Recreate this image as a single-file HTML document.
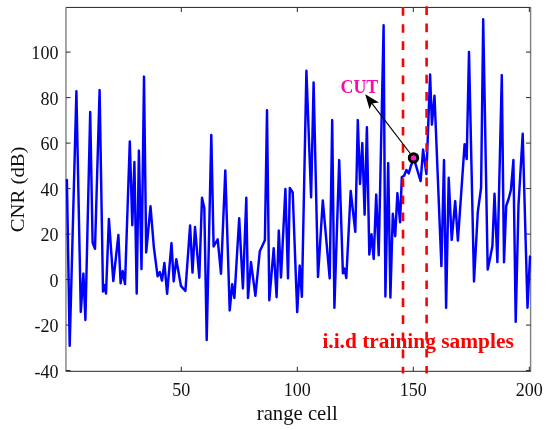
<!DOCTYPE html>
<html><head><meta charset="utf-8"><style>
html,body{margin:0;padding:0;background:#fff;}
body{width:550px;height:430px;overflow:hidden;}
svg{display:block;}
text{font-family:"Liberation Serif","DejaVu Serif",serif;}
</style></head><body>
<svg width="550" height="430" viewBox="0 0 550 430">
<rect x="0" y="0" width="550" height="430" fill="#fff"/>
<defs><clipPath id="ax"><rect x="64.65" y="6.13" width="467.25" height="366.47"/></clipPath></defs>
<g stroke="#262626" stroke-width="1" fill="none">
<line x1="65.75" y1="7.43" x2="530.8000000000001" y2="7.43"/>
<line x1="65.75" y1="371.3" x2="530.8000000000001" y2="371.3"/>
<line x1="65.95" y1="7.43" x2="65.95" y2="371.3" stroke="#808080" stroke-width="1.4"/>
<line x1="530.6" y1="7.43" x2="530.6" y2="371.3" stroke="#808080" stroke-width="1.4"/>
<line x1="65.95" y1="52.10" x2="70.55" y2="52.10"/>
<line x1="530.6" y1="52.10" x2="526.00" y2="52.10"/>
<line x1="65.95" y1="97.60" x2="70.55" y2="97.60"/>
<line x1="530.6" y1="97.60" x2="526.00" y2="97.60"/>
<line x1="65.95" y1="143.10" x2="70.55" y2="143.10"/>
<line x1="530.6" y1="143.10" x2="526.00" y2="143.10"/>
<line x1="65.95" y1="188.60" x2="70.55" y2="188.60"/>
<line x1="530.6" y1="188.60" x2="526.00" y2="188.60"/>
<line x1="65.95" y1="234.10" x2="70.55" y2="234.10"/>
<line x1="530.6" y1="234.10" x2="526.00" y2="234.10"/>
<line x1="65.95" y1="279.60" x2="70.55" y2="279.60"/>
<line x1="530.6" y1="279.60" x2="526.00" y2="279.60"/>
<line x1="65.95" y1="325.10" x2="70.55" y2="325.10"/>
<line x1="530.6" y1="325.10" x2="526.00" y2="325.10"/>
<line x1="65.95" y1="370.60" x2="70.55" y2="370.60"/>
<line x1="530.6" y1="370.60" x2="526.00" y2="370.60"/>
<line x1="181.30" y1="371.3" x2="181.30" y2="366.70"/>
<line x1="181.30" y1="7.43" x2="181.30" y2="12.03"/>
<line x1="297.30" y1="371.3" x2="297.30" y2="366.70"/>
<line x1="297.30" y1="7.43" x2="297.30" y2="12.03"/>
<line x1="413.30" y1="371.3" x2="413.30" y2="366.70"/>
<line x1="413.30" y1="7.43" x2="413.30" y2="12.03"/>
<line x1="529.30" y1="371.3" x2="529.30" y2="366.70"/>
<line x1="529.30" y1="7.43" x2="529.30" y2="12.03"/>
</g>
<g clip-path="url(#ax)">
<path d="M66.9,179.9 L69.7,345.7 L76.4,91.2 L80.8,311.9 L83.4,273.6 L85.4,320.0 L90.2,112.0 L92.6,242.5 L95.0,248.8 L99.6,90.1 L103.0,291.4 L104.5,285.1 L106.0,293.6 L108.9,218.9 L113.3,281.1 L118.4,235.0 L120.6,283.3 L122.7,271.1 L125.0,284.1 L129.8,141.5 L132.3,225.3 L134.4,162.0 L136.7,293.6 L138.9,150.6 L141.5,269.1 L144.0,76.6 L146.2,252.4 L150.5,206.3 L153.9,247.6 L157.6,276.3 L159.8,272.1 L162.0,280.6 L164.4,262.9 L167.1,293.8 L171.5,243.1 L173.7,281.4 L176.3,259.2 L181.0,286.2 L185.4,290.9 L190.1,225.5 L192.5,272.6 L195.0,227.0 L199.3,277.7 L202.0,197.8 L204.3,208.0 L206.7,339.9 L211.3,134.9 L213.6,246.5 L217.7,239.3 L221.0,273.8 L225.3,170.4 L229.7,310.4 L232.2,284.3 L234.4,298.0 L239.2,218.2 L242.9,288.4 L246.3,197.8 L248.0,298.0 L251.0,262.1 L255.4,295.8 L259.8,251.3 L264.9,240.3 L267.0,110.2 L269.3,300.2 L273.7,248.2 L276.6,297.2 L278.8,230.6 L281.0,277.5 L285.4,189.0 L288.0,278.2 L289.8,188.0 L292.7,192.5 L297.2,312.1 L299.7,265.6 L301.9,296.8 L306.4,70.7 L311.1,197.2 L313.6,82.5 L318.0,277.0 L322.8,200.4 L329.7,278.4 L332.2,120.1 L334.4,307.8 L339.2,160.1 L342.9,273.3 L344.5,268.6 L346.3,278.0 L350.7,190.9 L355.3,231.9 L357.8,120.1 L360.0,184.0 L362.3,143.1 L364.6,214.6 L366.9,127.3 L369.3,254.6 L371.5,234.3 L373.7,259.0 L376.2,194.6 L378.7,255.3 L383.6,25.3 L385.4,296.5 L388.2,163.1 L390.4,297.5 L392.8,213.8 L395.2,236.2 L397.4,193.1 L400.1,222.3 L401.8,177.1 L404.1,175.8 L406.4,170.0 L408.7,173.4 L411.1,165.3 L414.0,158.8 L420.6,181.1 L423.1,149.6 L426.4,174.1 L430.1,74.5 L431.9,124.6 L434.5,95.7 L441.4,266.1 L444.0,160.1 L446.1,307.8 L448.7,177.7 L451.7,239.9 L455.2,201.1 L457.9,240.6 L464.6,144.2 L466.7,159.1 L469.0,51.9 L474.0,281.4 L477.8,212.0 L481.1,187.5 L483.2,19.2 L487.7,269.6 L490.1,258.0 L492.4,246.0 L494.5,193.8 L497.4,262.1 L501.8,75.1 L504.0,262.3 L506.2,206.0 L508.6,199.0 L510.9,190.0 L513.4,160.0 L515.7,321.7 L518.5,205.0 L522.7,133.8 L527.5,307.8 L530.0,256.6" fill="none" stroke="#0000ff" stroke-width="2.45" stroke-linejoin="round" stroke-linecap="round"/>
</g>
<g stroke="#ff0000" stroke-width="2.6" stroke-dasharray="8.7 8.43">
<line x1="403.0" y1="7" x2="403.0" y2="373.5"/>
<line x1="426.6" y1="6.3" x2="426.6" y2="373.5"/>
</g>
<g font-size="18.3" fill="#111">
<text transform="translate(58.4,59.20) scale(0.985,1)" text-anchor="end">100</text>
<text transform="translate(58.4,104.70) scale(0.985,1)" text-anchor="end">80</text>
<text transform="translate(58.4,150.20) scale(0.985,1)" text-anchor="end">60</text>
<text transform="translate(58.4,195.70) scale(0.985,1)" text-anchor="end">40</text>
<text transform="translate(58.4,241.20) scale(0.985,1)" text-anchor="end">20</text>
<text transform="translate(58.4,286.70) scale(0.985,1)" text-anchor="end">0</text>
<text transform="translate(58.4,332.20) scale(0.985,1)" text-anchor="end">-20</text>
<text transform="translate(58.4,377.70) scale(0.985,1)" text-anchor="end">-40</text>
<text transform="translate(181.30,395.6) scale(0.985,1)" text-anchor="middle">50</text>
<text transform="translate(297.30,395.6) scale(0.985,1)" text-anchor="middle">100</text>
<text transform="translate(413.30,395.6) scale(0.985,1)" text-anchor="middle">150</text>
<text transform="translate(529.30,395.6) scale(0.985,1)" text-anchor="middle">200</text>
</g>
<g font-size="20.7" fill="#111">
<text x="297.3" y="419.9" text-anchor="middle">range cell</text>
<text transform="translate(23.7,189.4) scale(0.93,1) rotate(-90)" text-anchor="middle">CNR (dB)</text>
</g>
<line x1="410.3" y1="153.5" x2="371.7" y2="103.2" stroke="#000" stroke-width="1.2"/>
<path d="M365.2,94.3 L379,102.6 L371.8,103.4 L369.6,109.3 Z" fill="#000"/>
<circle cx="413.5" cy="157.9" r="4.2" fill="#ff1fc8" stroke="#000" stroke-width="3"/>
<text transform="translate(340.5,92.6) scale(0.907,1)" font-size="19.7" font-weight="bold" fill="#fa0aa8">CUT</text>
<text x="322.4" y="348" font-size="21.4" font-weight="bold" fill="#ff0000">i.i.d training samples</text>
</svg>
</body></html>
